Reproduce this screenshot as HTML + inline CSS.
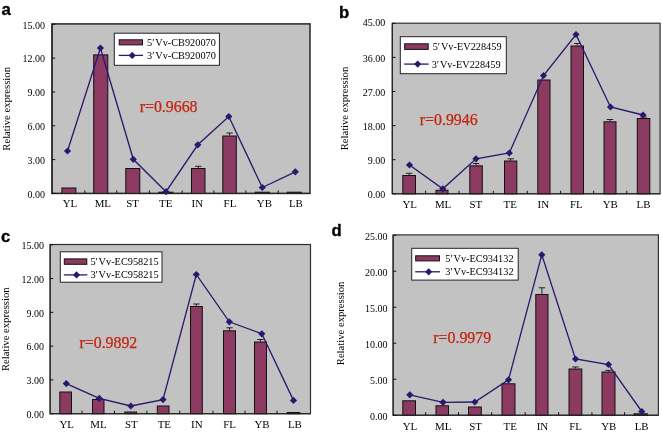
<!DOCTYPE html>
<html><head><meta charset="utf-8"><title>Figure</title>
<style>html,body{margin:0;padding:0;background:#fff}svg text{white-space:pre}</style></head>
<body>
<svg width="662" height="432" viewBox="0 0 662 432" style="display:block">
<rect width="662" height="432" fill="#fff"/>
<g>
<rect x="52" y="23.9" width="258.00" height="169.50" fill="#c2c2c2" stroke="#303030" stroke-width="1.6"/>
<rect x="61.90" y="188.00" width="14.00" height="5.40" fill="#8c3a62" stroke="#111" stroke-width="1"/>
<rect x="93.70" y="54.90" width="14.10" height="138.50" fill="#8c3a62" stroke="#111" stroke-width="1"/>
<rect x="125.80" y="168.50" width="14.00" height="24.90" fill="#8c3a62" stroke="#111" stroke-width="1"/>
<rect x="159.00" y="192.20" width="14.00" height="1.20" fill="#8c3a62" stroke="#111" stroke-width="1"/>
<rect x="191.50" y="168.50" width="13.50" height="24.90" fill="#8c3a62" stroke="#111" stroke-width="1"/>
<path d="M198.25 168.00V166.30M195.05 166.30H201.45" stroke="#111" stroke-width="0.9" fill="none"/>
<rect x="222.80" y="136.00" width="13.50" height="57.40" fill="#8c3a62" stroke="#111" stroke-width="1"/>
<path d="M229.55 135.50V133.00M226.35 133.00H232.75" stroke="#111" stroke-width="0.9" fill="none"/>
<rect x="255.25" y="192.20" width="14.00" height="1.20" fill="#8c3a62" stroke="#111" stroke-width="1"/>
<rect x="287.25" y="192.20" width="14.00" height="1.20" fill="#8c3a62" stroke="#111" stroke-width="1"/>
<path d="M52 23.9V193.4H310" stroke="#222" stroke-width="1.05" fill="none"/>
<path d="M52 193.40H55.2" stroke="#111" stroke-width="1"/>
<text x="45.00" y="197.60" font-family='"Liberation Serif", serif' font-size="10" text-anchor="end" fill="#000">0.00</text>
<path d="M52 159.58H55.2" stroke="#111" stroke-width="1"/>
<text x="45.00" y="163.78" font-family='"Liberation Serif", serif' font-size="10" text-anchor="end" fill="#000">3.00</text>
<path d="M52 125.76H55.2" stroke="#111" stroke-width="1"/>
<text x="45.00" y="129.96" font-family='"Liberation Serif", serif' font-size="10" text-anchor="end" fill="#000">6.00</text>
<path d="M52 91.94H55.2" stroke="#111" stroke-width="1"/>
<text x="45.00" y="96.14" font-family='"Liberation Serif", serif' font-size="10" text-anchor="end" fill="#000">9.00</text>
<path d="M52 58.12H55.2" stroke="#111" stroke-width="1"/>
<text x="45.00" y="62.32" font-family='"Liberation Serif", serif' font-size="10" text-anchor="end" fill="#000">12.00</text>
<path d="M52 24.30H55.2" stroke="#111" stroke-width="1"/>
<text x="45.00" y="28.50" font-family='"Liberation Serif", serif' font-size="10" text-anchor="end" fill="#000">15.00</text>
<path d="M84.83 190.4V193.4" stroke="#111" stroke-width="1"/>
<path d="M116.78 190.4V193.4" stroke="#111" stroke-width="1"/>
<path d="M149.40 190.4V193.4" stroke="#111" stroke-width="1"/>
<path d="M182.12 190.4V193.4" stroke="#111" stroke-width="1"/>
<path d="M213.90 190.4V193.4" stroke="#111" stroke-width="1"/>
<path d="M245.90 190.4V193.4" stroke="#111" stroke-width="1"/>
<path d="M278.25 190.4V193.4" stroke="#111" stroke-width="1"/>
<text x="69.95" y="207.20" font-family='"Liberation Serif", serif' font-size="10.9" text-anchor="middle" fill="#000">YL</text>
<text x="102.85" y="207.20" font-family='"Liberation Serif", serif' font-size="10.9" text-anchor="middle" fill="#000">ML</text>
<text x="132.55" y="207.20" font-family='"Liberation Serif", serif' font-size="10.9" text-anchor="middle" fill="#000">ST</text>
<text x="165.65" y="207.20" font-family='"Liberation Serif", serif' font-size="10.9" text-anchor="middle" fill="#000">TE</text>
<text x="197.25" y="207.20" font-family='"Liberation Serif", serif' font-size="10.9" text-anchor="middle" fill="#000">IN</text>
<text x="229.95" y="207.20" font-family='"Liberation Serif", serif' font-size="10.9" text-anchor="middle" fill="#000">FL</text>
<text x="264.35" y="207.20" font-family='"Liberation Serif", serif' font-size="10.9" text-anchor="middle" fill="#000">YB</text>
<text x="295.85" y="207.20" font-family='"Liberation Serif", serif' font-size="10.9" text-anchor="middle" fill="#000">LB</text>
<polyline points="67.50,151.00 100.40,48.00 133.30,159.30 166.00,191.70 197.80,144.80 228.80,116.50 262.30,187.50 295.30,171.80" fill="none" stroke="#2a176e" stroke-width="1.3"/>
<path d="M67.50 147.40L71.10 151.00L67.50 154.60L63.90 151.00Z" fill="#2a176e"/>
<path d="M100.40 44.40L104.00 48.00L100.40 51.60L96.80 48.00Z" fill="#2a176e"/>
<path d="M133.30 155.70L136.90 159.30L133.30 162.90L129.70 159.30Z" fill="#2a176e"/>
<path d="M166.00 188.10L169.60 191.70L166.00 195.30L162.40 191.70Z" fill="#2a176e"/>
<path d="M197.80 141.20L201.40 144.80L197.80 148.40L194.20 144.80Z" fill="#2a176e"/>
<path d="M228.80 112.90L232.40 116.50L228.80 120.10L225.20 116.50Z" fill="#2a176e"/>
<path d="M262.30 183.90L265.90 187.50L262.30 191.10L258.70 187.50Z" fill="#2a176e"/>
<path d="M295.30 168.20L298.90 171.80L295.30 175.40L291.70 171.80Z" fill="#2a176e"/>
<rect x="114.3" y="33.2" width="105.10" height="32.10" fill="#fff" stroke="#222" stroke-width="1"/>
<rect x="119.20" y="39.80" width="23.30" height="5.10" fill="#8c3a62" stroke="#111" stroke-width="1"/>
<path d="M118.70 55.40H143.00" stroke="#2a176e" stroke-width="1.3"/>
<path d="M132.20 51.80L135.80 55.40L132.20 59.00L128.60 55.40Z" fill="#2a176e"/>
<text x="147.00" y="46.20" font-family='"Liberation Serif", serif' font-size="10.3" fill="#000">5′<tspan dx="0.8">Vv-CB920070</tspan></text>
<text x="147.00" y="59.30" font-family='"Liberation Serif", serif' font-size="10.3" fill="#000">3′<tspan dx="0.8">Vv-CB920070</tspan></text>
<text x="139.7" y="112.0" font-family='"Liberation Serif", serif' font-size="15.85" fill="#c6230f" stroke="#c6230f" stroke-width="0.25">r=0.9668</text>
<text transform="translate(9.7 108.85) rotate(-90)" font-family='"Liberation Serif", serif' font-size="10.65" text-anchor="middle" fill="#000">Relative expression</text>
<text x="1.6" y="15.4" font-family='"Liberation Sans", sans-serif' font-weight="bold" font-size="16.8" fill="#000" stroke="#000" stroke-width="0.3">a</text>
</g>
<g>
<rect x="392.3" y="23.2" width="267.80" height="170.60" fill="#c2c2c2" stroke="#303030" stroke-width="1.2"/>
<rect x="402.80" y="175.50" width="12.70" height="18.30" fill="#8c3a62" stroke="#111" stroke-width="1"/>
<path d="M409.15 175.00V173.30M405.95 173.30H412.35" stroke="#111" stroke-width="0.9" fill="none"/>
<rect x="436.00" y="190.30" width="12.00" height="3.50" fill="#8c3a62" stroke="#111" stroke-width="1"/>
<rect x="469.80" y="165.80" width="12.50" height="28.00" fill="#8c3a62" stroke="#111" stroke-width="1"/>
<path d="M476.05 165.30V163.50M472.85 163.50H479.25" stroke="#111" stroke-width="0.9" fill="none"/>
<rect x="504.50" y="161.00" width="12.30" height="32.80" fill="#8c3a62" stroke="#111" stroke-width="1"/>
<path d="M510.65 160.50V158.80M507.45 158.80H513.85" stroke="#111" stroke-width="0.9" fill="none"/>
<rect x="537.80" y="80.00" width="12.20" height="113.80" fill="#8c3a62" stroke="#111" stroke-width="1"/>
<rect x="571.00" y="46.00" width="12.50" height="147.80" fill="#8c3a62" stroke="#111" stroke-width="1"/>
<path d="M577.25 45.50V43.50M574.05 43.50H580.45" stroke="#111" stroke-width="0.9" fill="none"/>
<rect x="604.00" y="121.80" width="12.00" height="72.00" fill="#8c3a62" stroke="#111" stroke-width="1"/>
<path d="M610.00 121.30V119.50M606.80 119.50H613.20" stroke="#111" stroke-width="0.9" fill="none"/>
<rect x="637.30" y="118.50" width="12.50" height="75.30" fill="#8c3a62" stroke="#111" stroke-width="1"/>
<path d="M643.55 118.00V117.00M640.35 117.00H646.75" stroke="#111" stroke-width="0.9" fill="none"/>
<path d="M392.3 23.2V193.8H660.1" stroke="#222" stroke-width="1.05" fill="none"/>
<path d="M392.3 193.80H395.5" stroke="#111" stroke-width="1"/>
<text x="385.30" y="198.00" font-family='"Liberation Serif", serif' font-size="10" text-anchor="end" fill="#000">0.00</text>
<path d="M392.3 159.70H395.5" stroke="#111" stroke-width="1"/>
<text x="385.30" y="163.90" font-family='"Liberation Serif", serif' font-size="10" text-anchor="end" fill="#000">9.00</text>
<path d="M392.3 125.60H395.5" stroke="#111" stroke-width="1"/>
<text x="385.30" y="129.80" font-family='"Liberation Serif", serif' font-size="10" text-anchor="end" fill="#000">18.00</text>
<path d="M392.3 91.50H395.5" stroke="#111" stroke-width="1"/>
<text x="385.30" y="95.70" font-family='"Liberation Serif", serif' font-size="10" text-anchor="end" fill="#000">27.00</text>
<path d="M392.3 57.40H395.5" stroke="#111" stroke-width="1"/>
<text x="385.30" y="61.60" font-family='"Liberation Serif", serif' font-size="10" text-anchor="end" fill="#000">36.00</text>
<path d="M392.3 23.30H395.5" stroke="#111" stroke-width="1"/>
<text x="385.30" y="26.20" font-family='"Liberation Serif", serif' font-size="10" text-anchor="end" fill="#000">45.00</text>
<path d="M425.57 190.8V193.8" stroke="#111" stroke-width="1"/>
<path d="M459.02 190.8V193.8" stroke="#111" stroke-width="1"/>
<path d="M493.35 190.8V193.8" stroke="#111" stroke-width="1"/>
<path d="M527.27 190.8V193.8" stroke="#111" stroke-width="1"/>
<path d="M560.58 190.8V193.8" stroke="#111" stroke-width="1"/>
<path d="M593.62 190.8V193.8" stroke="#111" stroke-width="1"/>
<path d="M626.77 190.8V193.8" stroke="#111" stroke-width="1"/>
<text x="409.65" y="208.00" font-family='"Liberation Serif", serif' font-size="10.9" text-anchor="middle" fill="#000">YL</text>
<text x="443.05" y="208.00" font-family='"Liberation Serif", serif' font-size="10.9" text-anchor="middle" fill="#000">ML</text>
<text x="475.75" y="208.00" font-family='"Liberation Serif", serif' font-size="10.9" text-anchor="middle" fill="#000">ST</text>
<text x="510.15" y="208.00" font-family='"Liberation Serif", serif' font-size="10.9" text-anchor="middle" fill="#000">TE</text>
<text x="543.25" y="208.00" font-family='"Liberation Serif", serif' font-size="10.9" text-anchor="middle" fill="#000">IN</text>
<text x="576.35" y="208.00" font-family='"Liberation Serif", serif' font-size="10.9" text-anchor="middle" fill="#000">FL</text>
<text x="610.25" y="208.00" font-family='"Liberation Serif", serif' font-size="10.9" text-anchor="middle" fill="#000">YB</text>
<text x="643.45" y="208.00" font-family='"Liberation Serif", serif' font-size="10.9" text-anchor="middle" fill="#000">LB</text>
<polyline points="409.50,165.00 442.80,188.80 476.00,158.80 509.30,153.00 543.50,75.50 576.00,34.50 610.50,107.00 643.00,115.00" fill="none" stroke="#2a176e" stroke-width="1.3"/>
<path d="M409.50 161.40L413.10 165.00L409.50 168.60L405.90 165.00Z" fill="#2a176e"/>
<path d="M442.80 185.20L446.40 188.80L442.80 192.40L439.20 188.80Z" fill="#2a176e"/>
<path d="M476.00 155.20L479.60 158.80L476.00 162.40L472.40 158.80Z" fill="#2a176e"/>
<path d="M509.30 149.40L512.90 153.00L509.30 156.60L505.70 153.00Z" fill="#2a176e"/>
<path d="M543.50 71.90L547.10 75.50L543.50 79.10L539.90 75.50Z" fill="#2a176e"/>
<path d="M576.00 30.90L579.60 34.50L576.00 38.10L572.40 34.50Z" fill="#2a176e"/>
<path d="M610.50 103.40L614.10 107.00L610.50 110.60L606.90 107.00Z" fill="#2a176e"/>
<path d="M643.00 111.40L646.60 115.00L643.00 118.60L639.40 115.00Z" fill="#2a176e"/>
<rect x="400.3" y="36.7" width="106.00" height="37.00" fill="#fff" stroke="#222" stroke-width="1"/>
<rect x="404.70" y="43.80" width="23.50" height="5.60" fill="#8c3a62" stroke="#111" stroke-width="1"/>
<path d="M404.20 64.10H428.70" stroke="#2a176e" stroke-width="1.3"/>
<path d="M417.70 60.50L421.30 64.10L417.70 67.70L414.10 64.10Z" fill="#2a176e"/>
<text x="432.70" y="49.90" font-family='"Liberation Serif", serif' font-size="10.3" fill="#000">5′<tspan dx="0.8">Vv-EV228459</tspan></text>
<text x="431.70" y="67.60" font-family='"Liberation Serif", serif' font-size="10.3" fill="#000">3′<tspan dx="0.8">Vv-EV228459</tspan></text>
<text x="419.8" y="125.3" font-family='"Liberation Serif", serif' font-size="15.85" fill="#c6230f" stroke="#c6230f" stroke-width="0.25">r=0.9946</text>
<text transform="translate(348 108.55) rotate(-90)" font-family='"Liberation Serif", serif' font-size="10.65" text-anchor="middle" fill="#000">Relative expression</text>
<text x="338.9" y="18.3" font-family='"Liberation Sans", sans-serif' font-weight="bold" font-size="16.7" fill="#000" stroke="#000" stroke-width="0.3">b</text>
</g>
<g>
<rect x="50.1" y="244.5" width="260.40" height="169.20" fill="#c2c2c2" stroke="#303030" stroke-width="1.2"/>
<rect x="59.80" y="392.00" width="11.70" height="21.70" fill="#8c3a62" stroke="#111" stroke-width="1"/>
<rect x="92.50" y="399.50" width="11.50" height="14.20" fill="#8c3a62" stroke="#111" stroke-width="1"/>
<rect x="124.80" y="412.00" width="11.70" height="1.70" fill="#8c3a62" stroke="#111" stroke-width="1"/>
<rect x="157.30" y="406.00" width="11.70" height="7.70" fill="#8c3a62" stroke="#111" stroke-width="1"/>
<rect x="190.50" y="306.50" width="11.80" height="107.20" fill="#8c3a62" stroke="#111" stroke-width="1"/>
<path d="M196.40 306.00V304.00M193.20 304.00H199.60" stroke="#111" stroke-width="0.9" fill="none"/>
<rect x="223.50" y="330.80" width="12.00" height="82.90" fill="#8c3a62" stroke="#111" stroke-width="1"/>
<path d="M229.50 330.30V327.80M226.30 327.80H232.70" stroke="#111" stroke-width="0.9" fill="none"/>
<rect x="254.50" y="342.00" width="12.00" height="71.70" fill="#8c3a62" stroke="#111" stroke-width="1"/>
<path d="M260.50 341.50V339.50M257.30 339.50H263.70" stroke="#111" stroke-width="0.9" fill="none"/>
<rect x="287.30" y="412.50" width="12.50" height="1.20" fill="#8c3a62" stroke="#111" stroke-width="1"/>
<path d="M50.1 244.5V413.7H310.5" stroke="#222" stroke-width="1.05" fill="none"/>
<path d="M50.1 413.70H53.300000000000004" stroke="#111" stroke-width="1"/>
<text x="43.90" y="417.90" font-family='"Liberation Serif", serif' font-size="10" text-anchor="end" fill="#000">0.00</text>
<path d="M50.1 379.92H53.300000000000004" stroke="#111" stroke-width="1"/>
<text x="43.90" y="384.12" font-family='"Liberation Serif", serif' font-size="10" text-anchor="end" fill="#000">3.00</text>
<path d="M50.1 346.14H53.300000000000004" stroke="#111" stroke-width="1"/>
<text x="43.90" y="350.34" font-family='"Liberation Serif", serif' font-size="10" text-anchor="end" fill="#000">6.00</text>
<path d="M50.1 312.36H53.300000000000004" stroke="#111" stroke-width="1"/>
<text x="43.90" y="316.56" font-family='"Liberation Serif", serif' font-size="10" text-anchor="end" fill="#000">9.00</text>
<path d="M50.1 278.58H53.300000000000004" stroke="#111" stroke-width="1"/>
<text x="43.90" y="282.78" font-family='"Liberation Serif", serif' font-size="10" text-anchor="end" fill="#000">12.00</text>
<path d="M50.1 244.80H53.300000000000004" stroke="#111" stroke-width="1"/>
<text x="43.90" y="249.00" font-family='"Liberation Serif", serif' font-size="10" text-anchor="end" fill="#000">15.00</text>
<path d="M81.95 410.7V413.7" stroke="#111" stroke-width="1"/>
<path d="M114.45 410.7V413.7" stroke="#111" stroke-width="1"/>
<path d="M146.90 410.7V413.7" stroke="#111" stroke-width="1"/>
<path d="M179.78 410.7V413.7" stroke="#111" stroke-width="1"/>
<path d="M212.95 410.7V413.7" stroke="#111" stroke-width="1"/>
<path d="M245.00 410.7V413.7" stroke="#111" stroke-width="1"/>
<path d="M277.02 410.7V413.7" stroke="#111" stroke-width="1"/>
<text x="66.75" y="427.90" font-family='"Liberation Serif", serif' font-size="10.9" text-anchor="middle" fill="#000">YL</text>
<text x="98.45" y="427.90" font-family='"Liberation Serif", serif' font-size="10.9" text-anchor="middle" fill="#000">ML</text>
<text x="131.35" y="427.90" font-family='"Liberation Serif", serif' font-size="10.9" text-anchor="middle" fill="#000">ST</text>
<text x="164.35" y="427.90" font-family='"Liberation Serif", serif' font-size="10.9" text-anchor="middle" fill="#000">TE</text>
<text x="196.85" y="427.90" font-family='"Liberation Serif", serif' font-size="10.9" text-anchor="middle" fill="#000">IN</text>
<text x="229.65" y="427.90" font-family='"Liberation Serif", serif' font-size="10.9" text-anchor="middle" fill="#000">FL</text>
<text x="262.05" y="427.90" font-family='"Liberation Serif", serif' font-size="10.9" text-anchor="middle" fill="#000">YB</text>
<text x="294.85" y="427.90" font-family='"Liberation Serif", serif' font-size="10.9" text-anchor="middle" fill="#000">LB</text>
<polyline points="66.30,383.60 99.30,398.40 130.80,406.00 163.00,399.60 196.30,274.50 229.30,321.80 261.80,333.80 293.50,400.40" fill="none" stroke="#2a176e" stroke-width="1.3"/>
<path d="M66.30 380.00L69.90 383.60L66.30 387.20L62.70 383.60Z" fill="#2a176e"/>
<path d="M99.30 394.80L102.90 398.40L99.30 402.00L95.70 398.40Z" fill="#2a176e"/>
<path d="M130.80 402.40L134.40 406.00L130.80 409.60L127.20 406.00Z" fill="#2a176e"/>
<path d="M163.00 396.00L166.60 399.60L163.00 403.20L159.40 399.60Z" fill="#2a176e"/>
<path d="M196.30 270.90L199.90 274.50L196.30 278.10L192.70 274.50Z" fill="#2a176e"/>
<path d="M229.30 318.20L232.90 321.80L229.30 325.40L225.70 321.80Z" fill="#2a176e"/>
<path d="M261.80 330.20L265.40 333.80L261.80 337.40L258.20 333.80Z" fill="#2a176e"/>
<path d="M293.50 396.80L297.10 400.40L293.50 404.00L289.90 400.40Z" fill="#2a176e"/>
<rect x="60.3" y="251.8" width="101.70" height="30.40" fill="#fff" stroke="#222" stroke-width="1"/>
<rect x="64.30" y="258.90" width="22.50" height="5.40" fill="#8c3a62" stroke="#111" stroke-width="1"/>
<path d="M63.80 274.90H87.30" stroke="#2a176e" stroke-width="1.3"/>
<path d="M76.50 271.30L80.10 274.90L76.50 278.50L72.90 274.90Z" fill="#2a176e"/>
<text x="90.40" y="265.40" font-family='"Liberation Serif", serif' font-size="10.3" fill="#000">5′<tspan dx="0.8">Vv-EC958215</tspan></text>
<text x="90.40" y="277.90" font-family='"Liberation Serif", serif' font-size="10.3" fill="#000">3′<tspan dx="0.8">Vv-EC958215</tspan></text>
<text x="79.5" y="348.2" font-family='"Liberation Serif", serif' font-size="15.85" fill="#c6230f" stroke="#c6230f" stroke-width="0.25">r=0.9892</text>
<text transform="translate(9 329.25) rotate(-90)" font-family='"Liberation Serif", serif' font-size="10.65" text-anchor="middle" fill="#000">Relative expression</text>
<text x="0.9" y="242.4" font-family='"Liberation Sans", sans-serif' font-weight="bold" font-size="16.8" fill="#000" stroke="#000" stroke-width="0.3">c</text>
</g>
<g>
<rect x="393.1" y="234.9" width="265.30" height="180.30" fill="#c2c2c2" stroke="#303030" stroke-width="1.2"/>
<rect x="402.80" y="400.80" width="12.70" height="14.40" fill="#8c3a62" stroke="#111" stroke-width="1"/>
<rect x="436.00" y="405.80" width="12.50" height="9.40" fill="#8c3a62" stroke="#111" stroke-width="1"/>
<rect x="468.50" y="407.00" width="12.80" height="8.20" fill="#8c3a62" stroke="#111" stroke-width="1"/>
<rect x="502.00" y="383.80" width="13.00" height="31.40" fill="#8c3a62" stroke="#111" stroke-width="1"/>
<rect x="535.80" y="294.50" width="12.20" height="120.70" fill="#8c3a62" stroke="#111" stroke-width="1"/>
<path d="M541.90 294.00V287.80M538.70 287.80H545.10" stroke="#111" stroke-width="0.9" fill="none"/>
<rect x="569.00" y="369.00" width="12.80" height="46.20" fill="#8c3a62" stroke="#111" stroke-width="1"/>
<path d="M575.40 368.50V367.00M572.20 367.00H578.60" stroke="#111" stroke-width="0.9" fill="none"/>
<rect x="602.00" y="372.00" width="13.00" height="43.20" fill="#8c3a62" stroke="#111" stroke-width="1"/>
<path d="M608.50 371.50V370.30M605.30 370.30H611.70" stroke="#111" stroke-width="0.9" fill="none"/>
<rect x="634.00" y="413.80" width="13.30" height="1.40" fill="#8c3a62" stroke="#111" stroke-width="1"/>
<path d="M393.1 234.9V415.2H658.4" stroke="#222" stroke-width="1.05" fill="none"/>
<path d="M393.1 415.20H396.3" stroke="#111" stroke-width="1"/>
<text x="387.50" y="419.80" font-family='"Liberation Serif", serif' font-size="10" text-anchor="end" fill="#000">0.00</text>
<path d="M393.1 379.20H396.3" stroke="#111" stroke-width="1"/>
<text x="387.50" y="383.80" font-family='"Liberation Serif", serif' font-size="10" text-anchor="end" fill="#000">5.00</text>
<path d="M393.1 343.20H396.3" stroke="#111" stroke-width="1"/>
<text x="387.50" y="347.80" font-family='"Liberation Serif", serif' font-size="10" text-anchor="end" fill="#000">10.00</text>
<path d="M393.1 307.20H396.3" stroke="#111" stroke-width="1"/>
<text x="387.50" y="311.80" font-family='"Liberation Serif", serif' font-size="10" text-anchor="end" fill="#000">15.00</text>
<path d="M393.1 271.20H396.3" stroke="#111" stroke-width="1"/>
<text x="387.50" y="275.80" font-family='"Liberation Serif", serif' font-size="10" text-anchor="end" fill="#000">20.00</text>
<path d="M393.1 235.20H396.3" stroke="#111" stroke-width="1"/>
<text x="387.50" y="239.80" font-family='"Liberation Serif", serif' font-size="10" text-anchor="end" fill="#000">25.00</text>
<path d="M425.70 412.2V415.2" stroke="#111" stroke-width="1"/>
<path d="M458.57 412.2V415.2" stroke="#111" stroke-width="1"/>
<path d="M491.70 412.2V415.2" stroke="#111" stroke-width="1"/>
<path d="M525.20 412.2V415.2" stroke="#111" stroke-width="1"/>
<path d="M558.65 412.2V415.2" stroke="#111" stroke-width="1"/>
<path d="M591.95 412.2V415.2" stroke="#111" stroke-width="1"/>
<path d="M624.58 412.2V415.2" stroke="#111" stroke-width="1"/>
<text x="409.95" y="430.40" font-family='"Liberation Serif", serif' font-size="10.9" text-anchor="middle" fill="#000">YL</text>
<text x="443.25" y="430.40" font-family='"Liberation Serif", serif' font-size="10.9" text-anchor="middle" fill="#000">ML</text>
<text x="475.55" y="430.40" font-family='"Liberation Serif", serif' font-size="10.9" text-anchor="middle" fill="#000">ST</text>
<text x="510.15" y="430.40" font-family='"Liberation Serif", serif' font-size="10.9" text-anchor="middle" fill="#000">TE</text>
<text x="542.45" y="430.40" font-family='"Liberation Serif", serif' font-size="10.9" text-anchor="middle" fill="#000">IN</text>
<text x="575.55" y="430.40" font-family='"Liberation Serif", serif' font-size="10.9" text-anchor="middle" fill="#000">FL</text>
<text x="608.75" y="430.40" font-family='"Liberation Serif", serif' font-size="10.9" text-anchor="middle" fill="#000">YB</text>
<text x="641.65" y="430.40" font-family='"Liberation Serif", serif' font-size="10.9" text-anchor="middle" fill="#000">LB</text>
<polyline points="409.80,394.80 443.00,402.30 474.80,402.00 508.50,379.80 541.80,254.80 575.50,359.00 608.50,364.50 641.80,411.50" fill="none" stroke="#2a176e" stroke-width="1.3"/>
<path d="M409.80 391.20L413.40 394.80L409.80 398.40L406.20 394.80Z" fill="#2a176e"/>
<path d="M443.00 398.70L446.60 402.30L443.00 405.90L439.40 402.30Z" fill="#2a176e"/>
<path d="M474.80 398.40L478.40 402.00L474.80 405.60L471.20 402.00Z" fill="#2a176e"/>
<path d="M508.50 376.20L512.10 379.80L508.50 383.40L504.90 379.80Z" fill="#2a176e"/>
<path d="M541.80 251.20L545.40 254.80L541.80 258.40L538.20 254.80Z" fill="#2a176e"/>
<path d="M575.50 355.40L579.10 359.00L575.50 362.60L571.90 359.00Z" fill="#2a176e"/>
<path d="M608.50 360.90L612.10 364.50L608.50 368.10L604.90 364.50Z" fill="#2a176e"/>
<path d="M641.80 407.90L645.40 411.50L641.80 415.10L638.20 411.50Z" fill="#2a176e"/>
<rect x="411.7" y="248.3" width="106.50" height="31.80" fill="#fff" stroke="#222" stroke-width="1"/>
<rect x="415.70" y="255.80" width="23.80" height="5.10" fill="#8c3a62" stroke="#111" stroke-width="1"/>
<path d="M415.20 271.80H440.00" stroke="#2a176e" stroke-width="1.3"/>
<path d="M428.70 268.20L432.30 271.80L428.70 275.40L425.10 271.80Z" fill="#2a176e"/>
<text x="445.30" y="262.20" font-family='"Liberation Serif", serif' font-size="10.3" fill="#000">5′<tspan dx="0.8">Vv-EC934132</tspan></text>
<text x="445.30" y="275.30" font-family='"Liberation Serif", serif' font-size="10.3" fill="#000">3′<tspan dx="0.8">Vv-EC934132</tspan></text>
<text x="433.3" y="342.8" font-family='"Liberation Serif", serif' font-size="15.85" fill="#c6230f" stroke="#c6230f" stroke-width="0.25">r=0.9979</text>
<text transform="translate(344.2 323.40) rotate(-90)" font-family='"Liberation Serif", serif' font-size="10.65" text-anchor="middle" fill="#000">Relative expression</text>
<text x="331.5" y="235.5" font-family='"Liberation Sans", sans-serif' font-weight="bold" font-size="16.7" fill="#000" stroke="#000" stroke-width="0.3">d</text>
</g>
</svg>
</body></html>
